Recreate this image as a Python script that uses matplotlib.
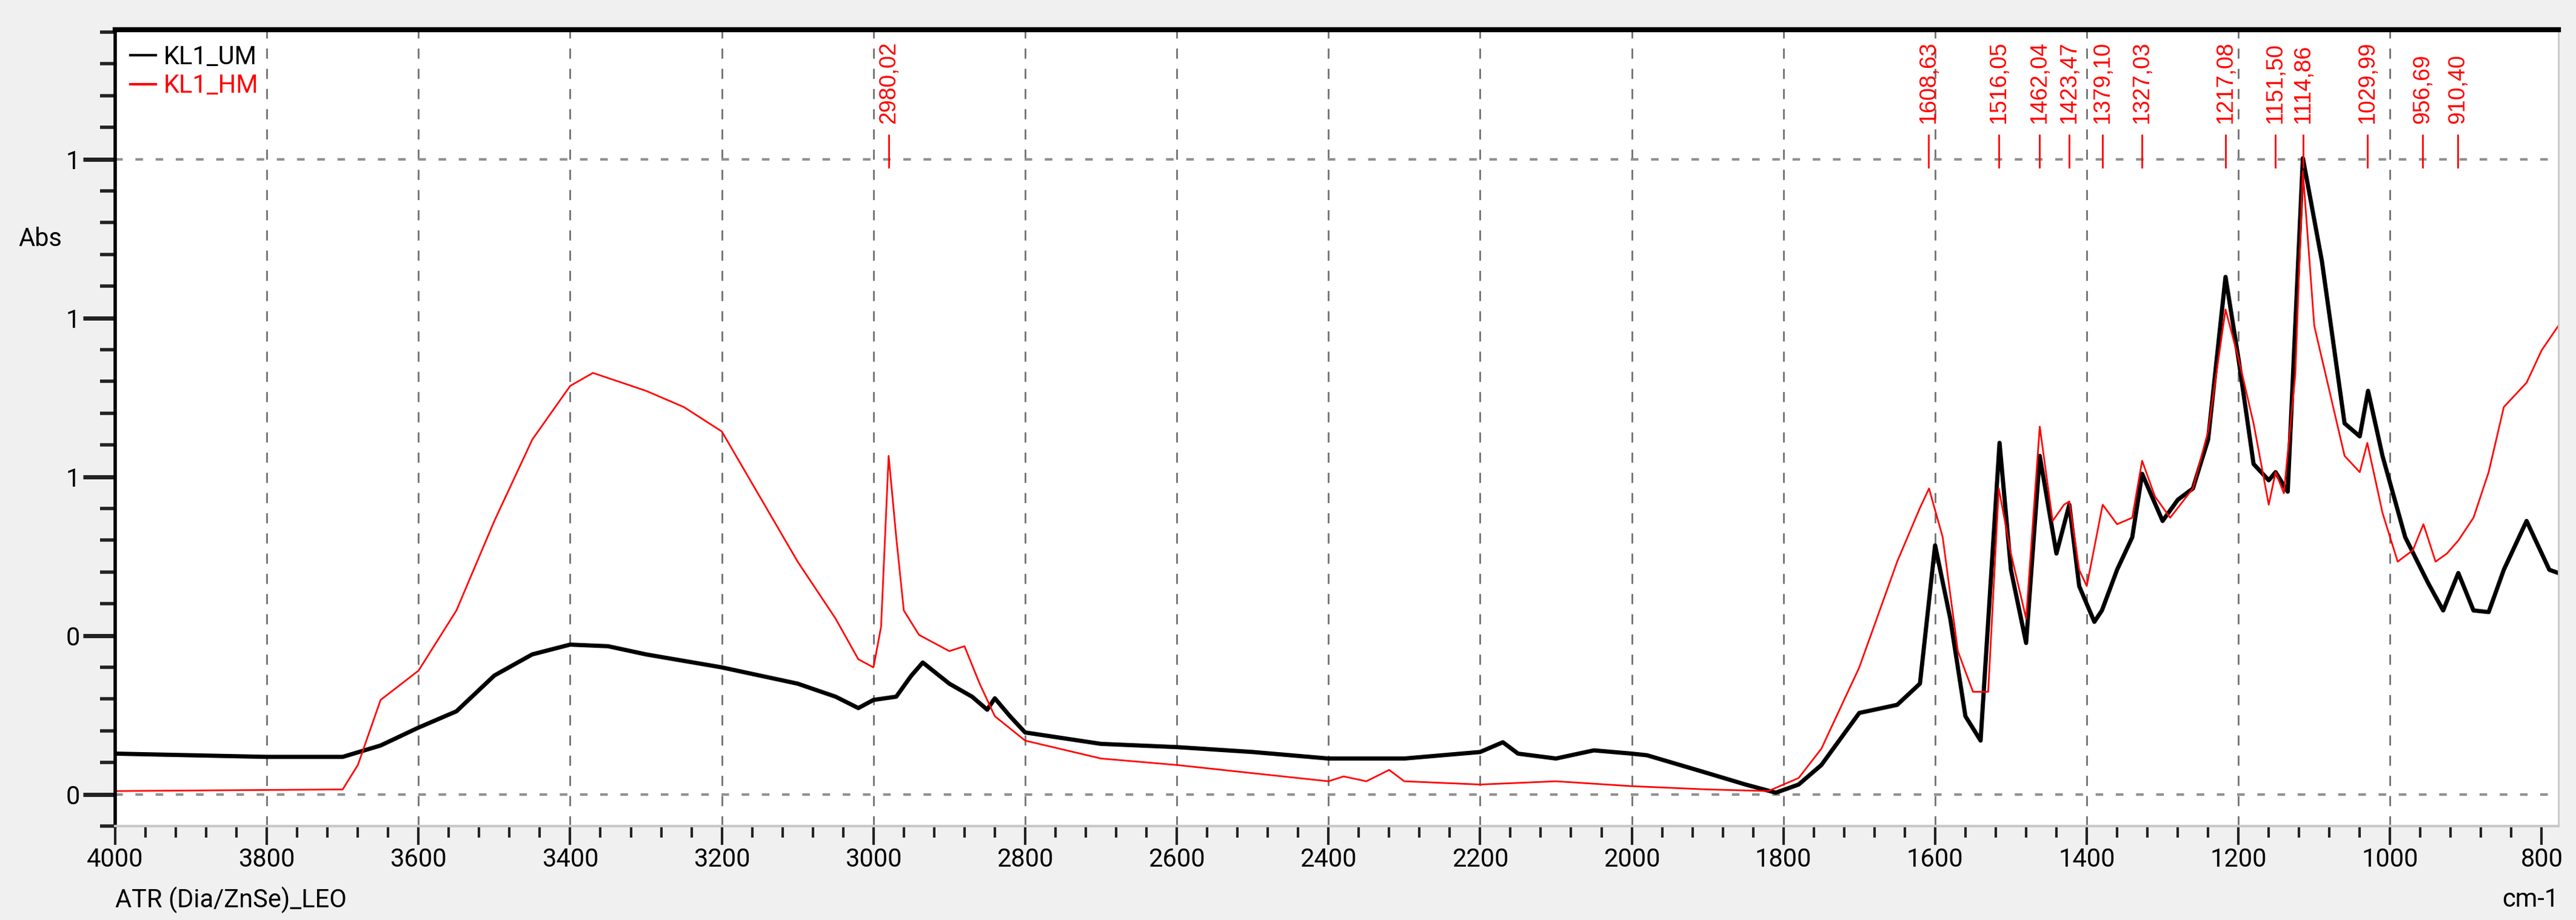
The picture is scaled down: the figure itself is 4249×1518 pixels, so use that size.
import matplotlib
matplotlib.use("Agg")
import matplotlib.pyplot as plt
import numpy as np

um_x = [4000,3800,3700,3650,3600,3550,3500,3450,3400,3350,3300,3200,3100,3050,3020,3000,2970,2950,2935,2900,2870,2850,2840,2820,2800,2700,2600,2500,2400,2300,2200,2170,2150,2100,2050,2000,1980,1900,1850,1810,1780,1750,1700,1650,1620,1600,1580,1560,1540,1515,1500,1480,1462,1440,1423,1410,1390,1380,1360,1340,1327,1300,1280,1260,1240,1217,1200,1180,1160,1151,1135,1115,1090,1060,1040,1029,1010,980,950,930,910,890,870,850,820,790,778]
um_py = [463,465,465,458,447,437,415,402,396,397,402,410,420,428,435,430,428,415,407,420,428,436,429,440,450,457,459,462,466,466,462,456,463,466,461,463,464,475,482,487,482,470,438,433,420,335,380,440,455,272,350,395,280,340,310,360,382,375,350,330,291,320,307,300,270,170,220,285,295,290,302,97,160,260,268,240,280,330,358,375,352,375,376,350,320,350,352]
hm_x = [4000,3700,3680,3650,3600,3550,3500,3450,3400,3370,3300,3250,3200,3150,3100,3050,3020,3000,2990,2980,2970,2960,2940,2900,2880,2860,2840,2800,2700,2600,2500,2400,2380,2350,2320,2300,2200,2100,2000,1900,1820,1780,1750,1700,1650,1620,1608,1590,1570,1550,1530,1516,1500,1480,1462,1445,1430,1423,1410,1400,1379,1360,1340,1327,1310,1290,1260,1240,1217,1200,1180,1160,1151,1140,1125,1115,1100,1080,1060,1040,1030,1010,990,970,956,940,925,910,890,870,850,820,800,778]
hm_py = [486,485,470,430,412,375,320,270,237,229,240,250,265,305,345,380,405,410,385,280,330,375,390,400,397,420,440,455,466,470,475,480,477,480,473,480,482,480,483,485,486,478,460,410,345,312,300,330,400,425,425,300,340,380,262,320,310,308,350,360,310,322,318,283,305,318,300,265,190,220,260,310,290,303,230,105,200,240,280,290,272,315,345,338,322,345,340,332,318,290,250,235,215,200]
um_y = [(488 - p) / 488 for p in um_py]
hm_y = [(488 - p) / 488 for p in hm_py]

peaks = [2980.02,1608.63,1516.05,1462.04,1423.47,1379.10,1327.03,1217.08,1151.50,1114.86,1029.99,956.69,910.40]
peak_labels = ["2980,02","1608,63","1516,05","1462,04","1423,47","1379,10","1327,03","1217,08","1151,50","1114,86","1029,99","956,69","910,40"]
ytick_vals = [0, 0.2, 0.4, 0.6, 0.8]
ytick_labels = ["0", "0", "1", "1", "1"]

plt.rcParams['font.family'] = ['Roboto', 'DejaVu Sans']
fig = plt.figure(figsize=(42.49, 15.18), dpi=100, facecolor='#f0f0f0')
ax = fig.add_axes([190/4249, 1-1363/1518, (4220-190)/4249, (1363-49)/1518])
ax.set_facecolor('white')
ax.plot(um_x, um_y, color='black', lw=5, label='KL1_UM')
ax.plot(hm_x, hm_y, color='red', lw=2, label='KL1_HM')
ax.set_xlim(4000, 778)
ax.set_ylim(-0.031, 0.963)

for px, lab in zip(peaks, peak_labels):
    ax.plot([px, px], [0.79, 0.83], color='red', lw=2)
    ax.text(px, 0.845, lab, rotation=90, color='red', ha='center', va='bottom',
            fontsize=27, family=['Liberation Sans'])

ax.set_xticks(np.arange(4000, 700, -200))
ax.set_xticks(np.arange(4000, 770, -40), minor=True)
ax.set_yticks(ytick_vals)
ax.set_yticklabels(ytick_labels)
ax.set_yticks(np.arange(-0.04, 0.97, 0.04), minor=True)
ax.tick_params(axis='both', which='major', labelsize=30, length=22, width=3, direction='out', color='#222222')
ax.tick_params(axis='x', which='minor', length=14, width=3, color='#222222')
ax.tick_params(axis='y', which='minor', length=18, width=4, color='#222222')
ax.tick_params(axis='y', which='major', length=38, width=5)
for x in np.arange(3800, 800, -200):
    ax.axvline(x, color='#707070', ls=(0, (6, 6)), lw=2, zorder=0)
for y in [0, 0.8]:
    ax.axhline(y, color='#909090', ls=(0, (3, 5)), lw=3, zorder=0)
ax.spines['left'].set_linewidth(4)
ax.spines['top'].set_linewidth(6)
ax.spines['bottom'].set_color('#c8c8c8')
ax.spines['bottom'].set_linewidth(3)
ax.spines['right'].set_color('#c8c8c8')
ax.spines['right'].set_linewidth(2)

leg = ax.legend(loc='upper left', frameon=False, fontsize=30, handlelength=1.0,
                handletextpad=0.3, labelspacing=0.15, borderaxespad=0.2, labelcolor='linecolor')
for h in leg.legend_handles:
    h.set_linewidth(3)

fig.text(30/4249, 1-395/1518, "Abs", fontsize=30, ha='left', va='center')
fig.text(190/4249, 1-1485/1518, "ATR (Dia/ZnSe)_LEO", fontsize=30, ha='left', va='center')
fig.text(4220/4249, 1-1485/1518, "cm-1", fontsize=30, ha='right', va='center')

fig.savefig("out.png", dpi=100, facecolor=fig.get_facecolor())
